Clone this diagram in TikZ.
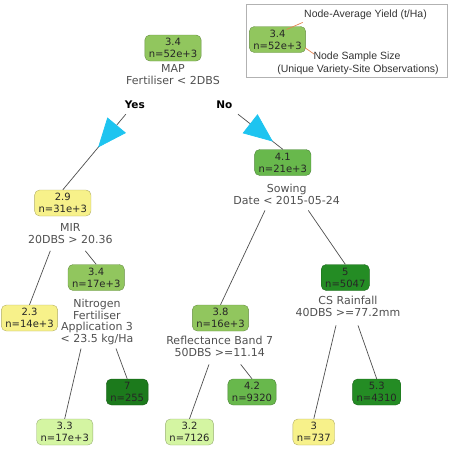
\documentclass[tikz,border=0pt]{standalone}
\usepackage{fontspec}
\setmainfont{DejaVu Sans}
\newfontfamily\legendfont{Liberation Sans}
\usepackage{tikz}
\usetikzlibrary{arrows.meta, positioning, decorations.markings}

\definecolor{ylow}{RGB}{247,241,138}
\definecolor{ypale}{RGB}{212,245,162}
\definecolor{ymid}{RGB}{145,198,94}
\definecolor{ygood}{RGB}{104,184,76}
\definecolor{yhigh}{RGB}{36,140,36}
\definecolor{ytop}{RGB}{28,122,28}
\definecolor{splitgray}{RGB}{80,80,80}
\definecolor{branchgray}{RGB}{78,78,78}
\definecolor{pointer}{RGB}{228,132,82}
\definecolor{yesno}{RGB}{30,196,240}

\tikzset{
  yieldnode/.style={draw=#1!72!black, fill=#1, rounded corners=5pt, align=center,
    minimum height=26pt, inner xsep=4pt, inner ysep=2pt,
    font=\fontsize{10}{12}\selectfont, text=black!85},
  splitlabel/.style={align=center, text=splitgray, font=\fontsize{11}{11.8}\selectfont},
  answer/.style={font=\bfseries\fontsize{10.5}{12}\selectfont},
  branch/.style={draw=branchgray, line width=0.7pt},
  bigtip/.style={postaction={decorate}, decoration={markings,
    mark=at position #1 with {\arrow{Triangle[length=29pt, width=24pt, color=yesno]}}}},
  legendtext/.style={text=black!80, font=\legendfont\fontsize{10.5}{12}\selectfont}
}

\begin{document}
\begin{tikzpicture}[x=1pt, y=-1pt]
  \useasboundingbox (0,0) rectangle (450,450);

  % legend
  \draw[gray!60, line width=0.8pt] (246,4) rectangle (447,77);
  \node[yieldnode=ymid] (key) at (277.5,39.5) {3.4\\n=52e+3};
  \node[legendtext] (keymean) at (365.5,15) {Node-Average Yield (t/Ha)};
  \node[legendtext] (keysize) at (357,57) {Node Sample Size};
  \node[legendtext] (keyobs) at (358,69.3) {(Unique Variety-Site Observations)};
  \draw[pointer, line width=0.7pt] ([shift={(9,-10)}]key.center) -- ([shift={(2,-1)}]keymean.south west);
  \draw[pointer, line width=0.7pt] ([shift={(-1,-5)}]key.south east) -- ([shift={(4,-3)}]keysize.west);

  % root split
  \node[yieldnode=ymid] (root) at (173,48) {3.4\\n=52e+3};
  \node[splitlabel] (rootsplit) at (173,74.2) {MAP\\Fertiliser < 2DBS};
  \node[answer] (yes) at (134.8,104.3) {Yes};
  \node[answer] (no) at (224.3,104.3) {No};

  % inner nodes
  \node[yieldnode=ylow] (mir) at (62.8,203) {2.9\\n=31e+3};
  \node[splitlabel] (mirsplit) at (70.3,233.3) {MIR\\20DBS > 20.36};
  \node[yieldnode=ygood] (sowing) at (282.8,162.5) {4.1\\n=21e+3};
  \node[splitlabel] (sowingsplit) at (286.7,194.2) {Sowing\\Date < 2015-05-24};
  \node[yieldnode=ymid] (nitrogen) at (96.2,277.5) {3.4\\n=17e+3};
  \node[splitlabel] (nitrogensplit) at (97,322) {Nitrogen\\Fertiliser\\Application 3\\< 23.5 kg/Ha};
  \node[yieldnode=ymid] (reflect) at (220.5,318) {3.8\\n=16e+3};
  \node[splitlabel] (reflectsplit) at (219.7,346.2) {Reflectance Band 7\\50DBS >=11.14};
  \node[yieldnode=yhigh] (rain) at (345.3,277.5) {5\\n=5047};
  \node[splitlabel] (rainsplit) at (348,306.2) {CS Rainfall\\40DBS >=77.2mm};

  % leaves
  \node[yieldnode=ylow] (leafA) at (29.5,318) {2.3\\n=14e+3};
  \node[yieldnode=ypale] (leafB) at (64.7,432) {3.3\\n=17e+3};
  \node[yieldnode=ytop] (leafC) at (127.2,392) {7\\n=255};
  \node[yieldnode=ypale] (leafD) at (189.5,432) {3.2\\n=7126};
  \node[yieldnode=ygood] (leafE) at (252,392) {4.2\\n=9320};
  \node[yieldnode=ylow] (leafF) at (313.8,432) {3\\n=737};
  \node[yieldnode=yhigh] (leafG) at (376.7,392) {5.3\\n=4310};

  % yes / no branches
  \draw[branch, bigtip=0.44] ([shift={(-9,2.5)}]yes.south) -- (mir.north);
  \draw[branch, bigtip=0.78] ([shift={(13.7,2.5)}]no.south) -- (sowing.north);

  % other branches
  \foreach \from/\dx/\dy/\to in {mirsplit/-20/4/leafA, mirsplit/15/4/nitrogen,
      sowingsplit/-21.7/2.5/reflect, sowingsplit/21.6/2.5/rain,
      nitrogensplit/-16/0/leafB, nitrogensplit/19/0/leafC,
      reflectsplit/-10.7/4.5/leafD, reflectsplit/21/4.5/leafE,
      rainsplit/-12/5.5/leafF, rainsplit/10/5.5/leafG}{
    \draw[branch] ([shift={(\dx,\dy)}]\from.south) -- (\to.north);
  }
\end{tikzpicture}
\end{document}
